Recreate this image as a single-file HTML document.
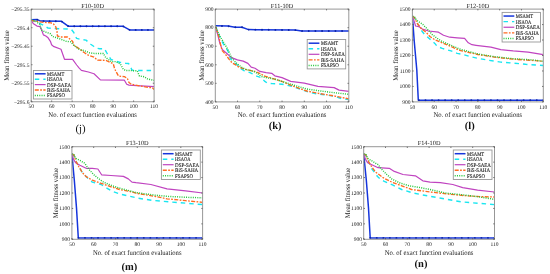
<!DOCTYPE html>
<html><head><meta charset="utf-8"><title>Convergence curves</title>
<style>
html,body{margin:0;padding:0;background:#fff;width:550px;height:274px;overflow:hidden}
svg{display:block}
text{font-family:"Liberation Serif","Times New Roman",serif;fill:#1a1a1a;text-rendering:geometricPrecision}
.t{font-size:5.5px}
.lb{font-size:7.2px}
.ti{font-size:6.3px}
.lg{font-size:5.5px;stroke:#1a1a1a;stroke-width:0.12px}
.lb2{font-size:10.5px;font-weight:bold;fill:#111}
.ls{font-size:10.8px;fill:#111}
</style></head>
<body>
<svg width="550" height="274" viewBox="0 0 550 274">
<defs><clipPath id="cj"><rect x="31.2" y="9.2" width="122.9" height="92.55"/></clipPath><clipPath id="ck"><rect x="215.3" y="9.1" width="133.5" height="92.8"/></clipPath><clipPath id="cl"><rect x="412.4" y="9.1" width="130.9" height="92.8"/></clipPath><clipPath id="cm"><rect x="71.9" y="146.7" width="130.7" height="92.6"/></clipPath><clipPath id="cn"><rect x="363.7" y="146.7" width="130.8" height="92.6"/></clipPath></defs>
<rect width="550" height="274" fill="#fff"/>
<g clip-path="url(#cj)"><polyline points="31.2,19.7 37,19.6 41,21.1 61.5,21.3 68.5,26.3 123.2,26.3 129.6,29.9 154.1,29.9" fill="none" stroke="#1535dc" stroke-width="1.5" stroke-linejoin="round"/><g fill="#0c24a8"><circle cx="31.2" cy="19.7" r="0.95"/><circle cx="37.34" cy="19.73" r="0.95"/><circle cx="43.49" cy="21.12" r="0.95"/><circle cx="49.63" cy="21.18" r="0.95"/><circle cx="55.78" cy="21.24" r="0.95"/><circle cx="61.92" cy="21.6" r="0.95"/><circle cx="68.07" cy="25.99" r="0.95"/><circle cx="74.22" cy="26.3" r="0.95"/><circle cx="80.36" cy="26.3" r="0.95"/><circle cx="86.5" cy="26.3" r="0.95"/><circle cx="92.65" cy="26.3" r="0.95"/><circle cx="98.8" cy="26.3" r="0.95"/><circle cx="104.94" cy="26.3" r="0.95"/><circle cx="111.09" cy="26.3" r="0.95"/><circle cx="117.23" cy="26.3" r="0.95"/><circle cx="123.38" cy="26.4" r="0.95"/><circle cx="129.52" cy="29.85" r="0.95"/><circle cx="135.66" cy="29.9" r="0.95"/><circle cx="141.81" cy="29.9" r="0.95"/><circle cx="147.95" cy="29.9" r="0.95"/><circle cx="154.1" cy="29.9" r="0.95"/></g><polyline points="31.2,19.9 38.8,23.2 41.7,24.3 45.2,26.1 48.1,28.1 53.4,28.4 60.4,28.8 67.4,29 71.5,29.6 73.8,32.5 75.5,36.6 76.7,38.4 81.4,39.5 86,40.1 90.7,44.2 94,46.5 95.8,47.9 99.8,48.8 104.5,48.8 107.4,54 110.9,59.3 115,61 119.7,62.2 125.5,63.2 128.5,63.5 130,65.5 131.7,69.6 133.2,70.5 154.1,70.5" fill="none" stroke="#19e6f0" stroke-width="1.4" stroke-dasharray="4.5 4" stroke-linejoin="round"/><polyline points="31.2,20.3 33.5,23.8 37,26.1 40,26.7 41.7,30.2 43.4,34.9 45.8,36 48.1,37.8 50.4,41.3 51.6,44.7 53.4,46.4 61,49.3 64.5,59.3 72.6,59.3 76.7,65 79,67.9 81.4,70.3 88.4,72 94,73.8 100.4,79.9 124.4,80.2 126.7,84.3 129,85.1 140.7,85.8 154.1,86.6" fill="none" stroke="#c044c0" stroke-width="1.2" stroke-linejoin="round"/><polyline points="31.2,20.3 37,21.4 41.7,22.2 51,22.9 53.4,23.8 55.7,26.7 56.9,30.2 57.4,36 60.4,37 67.4,37 69.7,38.9 72.6,41.3 73.8,45.3 80.2,49.3 83.7,52.3 88.4,55.2 94,57.2 97.5,60.1 105.7,60.4 111.5,62.8 113.3,63.9 114.4,68 115.6,70.8 118.5,76.1 124.4,76.7 127.3,78.4 129,82.5 131.4,84.3 140.7,86 146.6,87.2 152.4,87.8 154.1,89.5" fill="none" stroke="#ff6a1f" stroke-width="1.35" stroke-dasharray="4 1.4 1.7 1.4" stroke-linejoin="round"/><polyline points="31.2,19.9 35.8,21.4 39.9,24.3 41.7,30.2 45.2,31.9 50.4,33.7 52.8,36.6 56.9,37.8 61.5,39.5 66.2,41.3 70.9,41.9 73.8,45.3 79,49.3 83.7,50.5 89.6,52.8 94,53.4 103.3,53.4 105.7,57.5 111.5,61.6 115.6,61.6 120.3,63.9 123.2,69.2 125.5,70.4 137.2,70.8 139.5,76.1 144.2,76.7 147.7,79 154.1,80.4" fill="none" stroke="#22c83a" stroke-width="1.45" stroke-dasharray="1 1.25" stroke-linejoin="round"/></g>
<rect x="31.2" y="9.2" width="122.9" height="92.55" fill="none" stroke="#979797" stroke-width="1.0"/>
<path d="M31.2 9.2v1.3M31.2 101.75v-1.3M51.68 9.2v1.3M51.68 101.75v-1.3M72.17 9.2v1.3M72.17 101.75v-1.3M92.65 9.2v1.3M92.65 101.75v-1.3M113.13 9.2v1.3M113.13 101.75v-1.3M133.62 9.2v1.3M133.62 101.75v-1.3M154.1 9.2v1.3M154.1 101.75v-1.3M31.2 9.2h1.3M154.1 9.2h-1.3M31.2 27.71h1.3M154.1 27.71h-1.3M31.2 46.22h1.3M154.1 46.22h-1.3M31.2 64.73h1.3M154.1 64.73h-1.3M31.2 83.24h1.3M154.1 83.24h-1.3M31.2 101.75h1.3M154.1 101.75h-1.3" stroke="#555" stroke-width="0.8" fill="none"/>
<text x="31.2" y="108.45" class="t" text-anchor="middle">50</text>
<text x="51.68" y="108.45" class="t" text-anchor="middle">60</text>
<text x="72.17" y="108.45" class="t" text-anchor="middle">70</text>
<text x="92.65" y="108.45" class="t" text-anchor="middle">80</text>
<text x="113.13" y="108.45" class="t" text-anchor="middle">90</text>
<text x="133.62" y="108.45" class="t" text-anchor="middle">100</text>
<text x="154.1" y="108.45" class="t" text-anchor="middle">110</text>
<text x="29.4" y="11" class="t" text-anchor="end">−295.35</text>
<text x="29.4" y="29.51" class="t" text-anchor="end">−295.4</text>
<text x="29.4" y="48.02" class="t" text-anchor="end">−295.45</text>
<text x="29.4" y="66.53" class="t" text-anchor="end">−295.5</text>
<text x="29.4" y="85.04" class="t" text-anchor="end">−295.55</text>
<text x="29.4" y="103.55" class="t" text-anchor="end">−295.6</text>
<text x="92.65" y="7.8" class="ti" text-anchor="middle">F10-10D</text>
<text x="92.65" y="117" class="lb" text-anchor="middle" textLength="88.6" lengthAdjust="spacingAndGlyphs">No. of exact function evaluations</text>
<text transform="translate(9.2 55.48) rotate(-90)" class="lb" text-anchor="middle" textLength="50.6" lengthAdjust="spacingAndGlyphs">Mean fitness value</text>
<rect x="33.4" y="70.5" width="38.6" height="28.5" fill="#fff" stroke="#979797" stroke-width="0.9"/><polyline points="34.8,73.8 45.6,73.8" fill="none" stroke="#1535dc" stroke-width="1.5" stroke-linejoin="round"/><polyline points="34.8,79.2 45.6,79.2" fill="none" stroke="#19e6f0" stroke-width="1.4" stroke-dasharray="4.5 4" stroke-linejoin="round"/><polyline points="34.8,84.6 45.6,84.6" fill="none" stroke="#c044c0" stroke-width="1.2" stroke-linejoin="round"/><polyline points="34.8,90 45.6,90" fill="none" stroke="#ff6a1f" stroke-width="1.35" stroke-dasharray="4 1.4 1.7 1.4" stroke-linejoin="round"/><polyline points="34.8,95.4 45.6,95.4" fill="none" stroke="#22c83a" stroke-width="1.45" stroke-dasharray="1 1.25" stroke-linejoin="round"/>
<text x="47.1" y="75.75" class="lg" textLength="17.2" lengthAdjust="spacingAndGlyphs">MSAMT</text>
<text x="47.1" y="81.15" class="lg" textLength="15.5" lengthAdjust="spacingAndGlyphs">HSAOA</text>
<text x="47.1" y="86.55" class="lg" textLength="24" lengthAdjust="spacingAndGlyphs">DSP-SAEA</text>
<text x="47.1" y="91.95" class="lg" textLength="23.2" lengthAdjust="spacingAndGlyphs">BiS-SAHA</text>
<text x="47.1" y="97.35" class="lg" textLength="18" lengthAdjust="spacingAndGlyphs">FSAPSO</text>
<text x="80.6" y="132.4" class="ls" text-anchor="middle">(j)</text>
<g clip-path="url(#ck)"><polyline points="215.3,25.8 228,26.1 235,27.3 242,27.3 248.5,29.6 295.1,30.1 301.6,31 348.8,31" fill="none" stroke="#1535dc" stroke-width="1.5" stroke-linejoin="round"/><g fill="#0c24a8"><circle cx="215.3" cy="25.8" r="0.95"/><circle cx="221.98" cy="25.96" r="0.95"/><circle cx="228.65" cy="26.21" r="0.95"/><circle cx="235.33" cy="27.3" r="0.95"/><circle cx="242" cy="27.3" r="0.95"/><circle cx="248.68" cy="29.6" r="0.95"/><circle cx="255.35" cy="29.67" r="0.95"/><circle cx="262.03" cy="29.75" r="0.95"/><circle cx="268.7" cy="29.82" r="0.95"/><circle cx="275.38" cy="29.89" r="0.95"/><circle cx="282.05" cy="29.96" r="0.95"/><circle cx="288.73" cy="30.03" r="0.95"/><circle cx="295.4" cy="30.14" r="0.95"/><circle cx="302.08" cy="31" r="0.95"/><circle cx="308.75" cy="31" r="0.95"/><circle cx="315.43" cy="31" r="0.95"/><circle cx="322.1" cy="31" r="0.95"/><circle cx="328.78" cy="31" r="0.95"/><circle cx="335.45" cy="31" r="0.95"/><circle cx="342.12" cy="31" r="0.95"/><circle cx="348.8" cy="31" r="0.95"/></g><polyline points="215.3,25.8 219.5,36 222.8,43 225.1,46.5 228,51.2 230.4,58.8 234.4,62.9 239.1,66.4 240.1,68.3 244.4,70.8 250,72.7 252.5,73.9 257.4,76.4 261.2,77.6 264.9,81.4 267.4,83.2 272.3,83.6 277.3,83.9 282,84.2 291.9,86.2 300.6,89.3 309.3,92.4 316.7,93.9 325.4,94.9 334.1,96.1 341.6,98.6 348.8,99.6" fill="none" stroke="#19e6f0" stroke-width="1.4" stroke-dasharray="4.5 4" stroke-linejoin="round"/><polyline points="215.3,25.8 218.1,36 219.8,43 222.2,49.4 226.8,53.5 231.5,57.6 237.4,59.9 243.2,61.1 247.9,63.4 251.2,67.1 255,68.3 259.9,71.4 266.1,72.7 271.7,73.3 274.8,75.8 282,77.6 290.7,81.4 304.3,83.2 318,86.3 334.1,87.6 339.1,90.1 348.8,91.3" fill="none" stroke="#c044c0" stroke-width="1.2" stroke-linejoin="round"/><polyline points="215.3,25.8 218.7,36 221,46.5 222.2,50.6 225.7,54.7 229.2,59.4 232.1,62.9 236.2,65.2 238.8,67.1 246.3,69.6 255,71.4 261.2,73.9 263.6,75.8 269.8,77.6 276,79.5 282,81.5 294.4,86.6 306.8,91 319.2,93.5 331.6,95.5 341.6,97.4 348.8,98.9" fill="none" stroke="#ff6a1f" stroke-width="1.35" stroke-dasharray="4 1.4 1.7 1.4" stroke-linejoin="round"/><polyline points="215.3,25.8 219.8,36 223.3,41.8 226.8,47.7 229.8,53.5 231.5,57.6 236.2,62.9 241.3,67.1 246.3,69.6 253.7,71.4 257.4,73.3 261.2,76.4 266.1,77.6 273.6,78.9 282,81.4 294.4,85.3 306.8,89 319.2,90.8 331.6,92.4 348.8,94.3" fill="none" stroke="#22c83a" stroke-width="1.45" stroke-dasharray="1 1.25" stroke-linejoin="round"/></g>
<rect x="215.3" y="9.1" width="133.5" height="92.8" fill="none" stroke="#979797" stroke-width="1.0"/>
<path d="M215.3 9.1v1.3M215.3 101.9v-1.3M237.55 9.1v1.3M237.55 101.9v-1.3M259.8 9.1v1.3M259.8 101.9v-1.3M282.05 9.1v1.3M282.05 101.9v-1.3M304.3 9.1v1.3M304.3 101.9v-1.3M326.55 9.1v1.3M326.55 101.9v-1.3M348.8 9.1v1.3M348.8 101.9v-1.3M215.3 9.1h1.3M348.8 9.1h-1.3M215.3 27.66h1.3M348.8 27.66h-1.3M215.3 46.22h1.3M348.8 46.22h-1.3M215.3 64.78h1.3M348.8 64.78h-1.3M215.3 83.34h1.3M348.8 83.34h-1.3M215.3 101.9h1.3M348.8 101.9h-1.3" stroke="#555" stroke-width="0.8" fill="none"/>
<text x="215.3" y="108.6" class="t" text-anchor="middle">50</text>
<text x="237.55" y="108.6" class="t" text-anchor="middle">60</text>
<text x="259.8" y="108.6" class="t" text-anchor="middle">70</text>
<text x="282.05" y="108.6" class="t" text-anchor="middle">80</text>
<text x="304.3" y="108.6" class="t" text-anchor="middle">90</text>
<text x="326.55" y="108.6" class="t" text-anchor="middle">100</text>
<text x="348.8" y="108.6" class="t" text-anchor="middle">110</text>
<text x="213.5" y="10.9" class="t" text-anchor="end">900</text>
<text x="213.5" y="29.46" class="t" text-anchor="end">800</text>
<text x="213.5" y="48.02" class="t" text-anchor="end">700</text>
<text x="213.5" y="66.58" class="t" text-anchor="end">600</text>
<text x="213.5" y="85.14" class="t" text-anchor="end">500</text>
<text x="213.5" y="103.7" class="t" text-anchor="end">400</text>
<text x="282.05" y="7.7" class="ti" text-anchor="middle">F11-10D</text>
<text x="282.05" y="116.7" class="lb" text-anchor="middle" textLength="88.6" lengthAdjust="spacingAndGlyphs">No. of exact function evaluations</text>
<text transform="translate(203.7 55.5) rotate(-90)" class="lb" text-anchor="middle" textLength="50.6" lengthAdjust="spacingAndGlyphs">Mean fitness value</text>
<rect x="307.2" y="39.5" width="38.5" height="29.4" fill="#fff" stroke="#979797" stroke-width="0.9"/><polyline points="308.6,43.2 319.4,43.2" fill="none" stroke="#1535dc" stroke-width="1.5" stroke-linejoin="round"/><polyline points="308.6,48.75 319.4,48.75" fill="none" stroke="#19e6f0" stroke-width="1.4" stroke-dasharray="4.5 4" stroke-linejoin="round"/><polyline points="308.6,54.3 319.4,54.3" fill="none" stroke="#c044c0" stroke-width="1.2" stroke-linejoin="round"/><polyline points="308.6,59.85 319.4,59.85" fill="none" stroke="#ff6a1f" stroke-width="1.35" stroke-dasharray="4 1.4 1.7 1.4" stroke-linejoin="round"/><polyline points="308.6,65.4 319.4,65.4" fill="none" stroke="#22c83a" stroke-width="1.45" stroke-dasharray="1 1.25" stroke-linejoin="round"/>
<text x="320.9" y="45.15" class="lg" textLength="17.2" lengthAdjust="spacingAndGlyphs">MSAMT</text>
<text x="320.9" y="50.7" class="lg" textLength="15.5" lengthAdjust="spacingAndGlyphs">HSAOA</text>
<text x="320.9" y="56.25" class="lg" textLength="24" lengthAdjust="spacingAndGlyphs">DSP-SAEA</text>
<text x="320.9" y="61.8" class="lg" textLength="23.2" lengthAdjust="spacingAndGlyphs">BiS-SAHA</text>
<text x="320.9" y="67.35" class="lg" textLength="18" lengthAdjust="spacingAndGlyphs">FSAPSO</text>
<text x="275.1" y="128.8" class="lb2" text-anchor="middle">(k)</text>
<g clip-path="url(#cl)"><polyline points="412.4,16.4 414.3,42 416.8,70 418.3,100.2 543.3,100.2" fill="none" stroke="#1535dc" stroke-width="1.5" stroke-linejoin="round"/><g fill="#0c24a8"><circle cx="412.4" cy="16.4" r="0.95"/><circle cx="418.94" cy="100.2" r="0.95"/><circle cx="425.49" cy="100.2" r="0.95"/><circle cx="432.03" cy="100.2" r="0.95"/><circle cx="438.58" cy="100.2" r="0.95"/><circle cx="445.12" cy="100.2" r="0.95"/><circle cx="451.67" cy="100.2" r="0.95"/><circle cx="458.21" cy="100.2" r="0.95"/><circle cx="464.76" cy="100.2" r="0.95"/><circle cx="471.3" cy="100.2" r="0.95"/><circle cx="477.85" cy="100.2" r="0.95"/><circle cx="484.39" cy="100.2" r="0.95"/><circle cx="490.94" cy="100.2" r="0.95"/><circle cx="497.48" cy="100.2" r="0.95"/><circle cx="504.03" cy="100.2" r="0.95"/><circle cx="510.57" cy="100.2" r="0.95"/><circle cx="517.12" cy="100.2" r="0.95"/><circle cx="523.66" cy="100.2" r="0.95"/><circle cx="530.21" cy="100.2" r="0.95"/><circle cx="536.75" cy="100.2" r="0.95"/><circle cx="543.3" cy="100.2" r="0.95"/></g><polyline points="412.4,16.4 414.3,17.5 417.4,23.5 421.8,31 424.3,34.1 428.6,37.9 434.8,43.4 437.3,46.5 442.3,48.4 451,50.9 457.2,53.4 463.4,54.6 469.6,56.5 478,58.3 488.4,60.2 500.8,62.1 513.2,63.1 525.6,64.3 543.3,65.5" fill="none" stroke="#19e6f0" stroke-width="1.4" stroke-dasharray="4.5 4" stroke-linejoin="round"/><polyline points="412.4,16.4 414.3,21.6 415.6,26 418.7,26.6 422.4,29.1 428.6,31 438.5,32.2 443.5,35.3 449.7,37.2 457.2,37.8 464.6,38.3 468.3,42.8 472,44.7 476,45.3 490.9,47.2 500.8,49.6 513.2,50.9 528.1,52.1 543.3,54.6" fill="none" stroke="#c044c0" stroke-width="1.2" stroke-linejoin="round"/><polyline points="412.4,16.4 414.3,17.3 417.4,23.5 421.2,28.5 426.1,32.2 429.9,36.5 434.8,39.7 442.3,42.8 451,46.5 459.6,50.3 468.3,52.4 478,54.5 494.6,57.1 513.2,59.2 531.8,60.4 543.3,61.3" fill="none" stroke="#ff6a1f" stroke-width="1.35" stroke-dasharray="4 1.4 1.7 1.4" stroke-linejoin="round"/><polyline points="412.4,16.4 414.3,16.7 416.8,20.4 422.4,24.1 428.6,30.3 432.3,34.7 437.3,38.4 442.3,41.6 451,45.3 459.6,49 469.6,51.8 478,54 494.6,56.7 513.2,58.7 531.8,59.9 543.3,61.3" fill="none" stroke="#22c83a" stroke-width="1.45" stroke-dasharray="1 1.25" stroke-linejoin="round"/></g>
<rect x="412.4" y="9.1" width="130.9" height="92.8" fill="none" stroke="#979797" stroke-width="1.0"/>
<path d="M412.4 9.1v1.3M412.4 101.9v-1.3M434.22 9.1v1.3M434.22 101.9v-1.3M456.03 9.1v1.3M456.03 101.9v-1.3M477.85 9.1v1.3M477.85 101.9v-1.3M499.67 9.1v1.3M499.67 101.9v-1.3M521.48 9.1v1.3M521.48 101.9v-1.3M543.3 9.1v1.3M543.3 101.9v-1.3M412.4 9.1h1.3M543.3 9.1h-1.3M412.4 24.57h1.3M543.3 24.57h-1.3M412.4 40.03h1.3M543.3 40.03h-1.3M412.4 55.5h1.3M543.3 55.5h-1.3M412.4 70.97h1.3M543.3 70.97h-1.3M412.4 86.43h1.3M543.3 86.43h-1.3M412.4 101.9h1.3M543.3 101.9h-1.3" stroke="#555" stroke-width="0.8" fill="none"/>
<text x="412.4" y="108.6" class="t" text-anchor="middle">50</text>
<text x="434.22" y="108.6" class="t" text-anchor="middle">60</text>
<text x="456.03" y="108.6" class="t" text-anchor="middle">70</text>
<text x="477.85" y="108.6" class="t" text-anchor="middle">80</text>
<text x="499.67" y="108.6" class="t" text-anchor="middle">90</text>
<text x="521.48" y="108.6" class="t" text-anchor="middle">100</text>
<text x="543.3" y="108.6" class="t" text-anchor="middle">110</text>
<text x="410.6" y="10.9" class="t" text-anchor="end">1500</text>
<text x="410.6" y="26.37" class="t" text-anchor="end">1400</text>
<text x="410.6" y="41.83" class="t" text-anchor="end">1300</text>
<text x="410.6" y="57.3" class="t" text-anchor="end">1200</text>
<text x="410.6" y="72.77" class="t" text-anchor="end">1100</text>
<text x="410.6" y="88.23" class="t" text-anchor="end">1000</text>
<text x="410.6" y="103.7" class="t" text-anchor="end">900</text>
<text x="477.85" y="7.7" class="ti" text-anchor="middle">F12-10D</text>
<text x="477.85" y="116.7" class="lb" text-anchor="middle" textLength="88.6" lengthAdjust="spacingAndGlyphs">No. of exact function evaluations</text>
<text transform="translate(398.2 55.5) rotate(-90)" class="lb" text-anchor="middle" textLength="50.6" lengthAdjust="spacingAndGlyphs">Mean fitness value</text>
<rect x="502.1" y="12.4" width="38.4" height="29.6" fill="#fff" stroke="#979797" stroke-width="0.9"/><polyline points="503.5,16.05 514.3,16.05" fill="none" stroke="#1535dc" stroke-width="1.5" stroke-linejoin="round"/><polyline points="503.5,21.65 514.3,21.65" fill="none" stroke="#19e6f0" stroke-width="1.4" stroke-dasharray="4.5 4" stroke-linejoin="round"/><polyline points="503.5,27.25 514.3,27.25" fill="none" stroke="#c044c0" stroke-width="1.2" stroke-linejoin="round"/><polyline points="503.5,32.85 514.3,32.85" fill="none" stroke="#ff6a1f" stroke-width="1.35" stroke-dasharray="4 1.4 1.7 1.4" stroke-linejoin="round"/><polyline points="503.5,38.45 514.3,38.45" fill="none" stroke="#22c83a" stroke-width="1.45" stroke-dasharray="1 1.25" stroke-linejoin="round"/>
<text x="515.8" y="18" class="lg" textLength="17.2" lengthAdjust="spacingAndGlyphs">MSAMT</text>
<text x="515.8" y="23.6" class="lg" textLength="15.5" lengthAdjust="spacingAndGlyphs">HSAOA</text>
<text x="515.8" y="29.2" class="lg" textLength="24" lengthAdjust="spacingAndGlyphs">DSP-SAEA</text>
<text x="515.8" y="34.8" class="lg" textLength="23.2" lengthAdjust="spacingAndGlyphs">BiS-SAHA</text>
<text x="515.8" y="40.4" class="lg" textLength="18" lengthAdjust="spacingAndGlyphs">FSAPSO</text>
<text x="469.8" y="128.9" class="lb2" text-anchor="middle">(l)</text>
<g clip-path="url(#cm)"><polyline points="71.9,154.1 74.3,180 76.5,208 78.3,237.9 202.6,237.9" fill="none" stroke="#1535dc" stroke-width="1.5" stroke-linejoin="round"/><g fill="#0c24a8"><circle cx="71.9" cy="154.1" r="0.95"/><circle cx="78.44" cy="237.9" r="0.95"/><circle cx="84.97" cy="237.9" r="0.95"/><circle cx="91.51" cy="237.9" r="0.95"/><circle cx="98.04" cy="237.9" r="0.95"/><circle cx="104.58" cy="237.9" r="0.95"/><circle cx="111.11" cy="237.9" r="0.95"/><circle cx="117.65" cy="237.9" r="0.95"/><circle cx="124.18" cy="237.9" r="0.95"/><circle cx="130.72" cy="237.9" r="0.95"/><circle cx="137.25" cy="237.9" r="0.95"/><circle cx="143.78" cy="237.9" r="0.95"/><circle cx="150.32" cy="237.9" r="0.95"/><circle cx="156.86" cy="237.9" r="0.95"/><circle cx="163.39" cy="237.9" r="0.95"/><circle cx="169.93" cy="237.9" r="0.95"/><circle cx="176.46" cy="237.9" r="0.95"/><circle cx="183" cy="237.9" r="0.95"/><circle cx="189.53" cy="237.9" r="0.95"/><circle cx="196.06" cy="237.9" r="0.95"/><circle cx="202.6" cy="237.9" r="0.95"/></g><polyline points="71.9,154.1 73.7,154.7 76.2,161.5 78.7,166.5 82.4,172.5 84.9,175.2 88.6,178.9 92.3,182.1 101,184.5 107.2,188.3 112.2,191.4 119.6,193.9 127.1,195.7 138,198.2 152.1,200.3 169.5,201.9 185.6,203.2 202.6,204.6" fill="none" stroke="#19e6f0" stroke-width="1.4" stroke-dasharray="4.5 4" stroke-linejoin="round"/><polyline points="71.9,154.1 73.7,159.6 75.6,162.8 79.9,165.2 86.1,168.3 92.3,168.3 97.9,169 101.6,174.8 111,175.5 123.4,176.4 128.3,178.9 132,182.1 136,182.7 150.9,184.5 167,188.9 185.6,190.8 202.6,193" fill="none" stroke="#c044c0" stroke-width="1.2" stroke-linejoin="round"/><polyline points="71.9,154.1 73.7,154.7 76.2,161.5 78.7,166.5 82.4,172.7 86.1,176.6 92.3,180.2 101,183.3 109.7,186.4 119.6,189.5 129.6,191.4 136,193.2 154.6,196.3 167,198.8 185.6,200.7 202.6,202.3" fill="none" stroke="#ff6a1f" stroke-width="1.35" stroke-dasharray="4 1.4 1.7 1.4" stroke-linejoin="round"/><polyline points="71.9,154.1 73.7,154.1 75.6,158.4 79.9,160.3 84.9,163.4 88.6,169 93.6,174.5 97.3,177.7 103.5,182.1 112.2,185.8 122.1,188.9 132,191.4 136,192.6 154.6,195.1 167,196.3 185.6,197.3 202.6,197.8" fill="none" stroke="#22c83a" stroke-width="1.45" stroke-dasharray="1 1.25" stroke-linejoin="round"/></g>
<rect x="71.9" y="146.7" width="130.7" height="92.6" fill="none" stroke="#979797" stroke-width="1.0"/>
<path d="M71.9 146.7v1.3M71.9 239.3v-1.3M93.68 146.7v1.3M93.68 239.3v-1.3M115.47 146.7v1.3M115.47 239.3v-1.3M137.25 146.7v1.3M137.25 239.3v-1.3M159.03 146.7v1.3M159.03 239.3v-1.3M180.82 146.7v1.3M180.82 239.3v-1.3M202.6 146.7v1.3M202.6 239.3v-1.3M71.9 146.7h1.3M202.6 146.7h-1.3M71.9 162.13h1.3M202.6 162.13h-1.3M71.9 177.57h1.3M202.6 177.57h-1.3M71.9 193h1.3M202.6 193h-1.3M71.9 208.43h1.3M202.6 208.43h-1.3M71.9 223.87h1.3M202.6 223.87h-1.3M71.9 239.3h1.3M202.6 239.3h-1.3" stroke="#555" stroke-width="0.8" fill="none"/>
<text x="71.9" y="246" class="t" text-anchor="middle">50</text>
<text x="93.68" y="246" class="t" text-anchor="middle">60</text>
<text x="115.47" y="246" class="t" text-anchor="middle">70</text>
<text x="137.25" y="246" class="t" text-anchor="middle">80</text>
<text x="159.03" y="246" class="t" text-anchor="middle">90</text>
<text x="180.82" y="246" class="t" text-anchor="middle">100</text>
<text x="202.6" y="246" class="t" text-anchor="middle">110</text>
<text x="70.1" y="148.5" class="t" text-anchor="end">1500</text>
<text x="70.1" y="163.93" class="t" text-anchor="end">1400</text>
<text x="70.1" y="179.37" class="t" text-anchor="end">1300</text>
<text x="70.1" y="194.8" class="t" text-anchor="end">1200</text>
<text x="70.1" y="210.23" class="t" text-anchor="end">1100</text>
<text x="70.1" y="225.67" class="t" text-anchor="end">1000</text>
<text x="70.1" y="241.1" class="t" text-anchor="end">900</text>
<text x="137.25" y="145.3" class="ti" text-anchor="middle">F13-10D</text>
<text x="137.25" y="254.9" class="lb" text-anchor="middle" textLength="88.6" lengthAdjust="spacingAndGlyphs">No. of exact function evaluations</text>
<text transform="translate(57.7 193) rotate(-90)" class="lb" text-anchor="middle" textLength="50.6" lengthAdjust="spacingAndGlyphs">Mean fitness value</text>
<rect x="161.4" y="150" width="38.9" height="29.5" fill="#fff" stroke="#979797" stroke-width="0.9"/><polyline points="162.8,153.7 173.6,153.7" fill="none" stroke="#1535dc" stroke-width="1.5" stroke-linejoin="round"/><polyline points="162.8,159.2 173.6,159.2" fill="none" stroke="#19e6f0" stroke-width="1.4" stroke-dasharray="4.5 4" stroke-linejoin="round"/><polyline points="162.8,164.7 173.6,164.7" fill="none" stroke="#c044c0" stroke-width="1.2" stroke-linejoin="round"/><polyline points="162.8,170.2 173.6,170.2" fill="none" stroke="#ff6a1f" stroke-width="1.35" stroke-dasharray="4 1.4 1.7 1.4" stroke-linejoin="round"/><polyline points="162.8,175.7 173.6,175.7" fill="none" stroke="#22c83a" stroke-width="1.45" stroke-dasharray="1 1.25" stroke-linejoin="round"/>
<text x="175.1" y="155.65" class="lg" textLength="17.2" lengthAdjust="spacingAndGlyphs">MSAMT</text>
<text x="175.1" y="161.15" class="lg" textLength="15.5" lengthAdjust="spacingAndGlyphs">HSAOA</text>
<text x="175.1" y="166.65" class="lg" textLength="24" lengthAdjust="spacingAndGlyphs">DSP-SAEA</text>
<text x="175.1" y="172.15" class="lg" textLength="23.2" lengthAdjust="spacingAndGlyphs">BiS-SAHA</text>
<text x="175.1" y="177.65" class="lg" textLength="18" lengthAdjust="spacingAndGlyphs">FSAPSO</text>
<text x="129.3" y="270" class="lb2" text-anchor="middle">(m)</text>
<g clip-path="url(#cn)"><polyline points="363.7,154.1 366.3,180 368.5,208 370.2,237.9 494.5,237.9" fill="none" stroke="#1535dc" stroke-width="1.5" stroke-linejoin="round"/><g fill="#0c24a8"><circle cx="363.7" cy="154.1" r="0.95"/><circle cx="370.24" cy="237.9" r="0.95"/><circle cx="376.78" cy="237.9" r="0.95"/><circle cx="383.32" cy="237.9" r="0.95"/><circle cx="389.86" cy="237.9" r="0.95"/><circle cx="396.4" cy="237.9" r="0.95"/><circle cx="402.94" cy="237.9" r="0.95"/><circle cx="409.48" cy="237.9" r="0.95"/><circle cx="416.02" cy="237.9" r="0.95"/><circle cx="422.56" cy="237.9" r="0.95"/><circle cx="429.1" cy="237.9" r="0.95"/><circle cx="435.64" cy="237.9" r="0.95"/><circle cx="442.18" cy="237.9" r="0.95"/><circle cx="448.72" cy="237.9" r="0.95"/><circle cx="455.26" cy="237.9" r="0.95"/><circle cx="461.8" cy="237.9" r="0.95"/><circle cx="468.34" cy="237.9" r="0.95"/><circle cx="474.88" cy="237.9" r="0.95"/><circle cx="481.42" cy="237.9" r="0.95"/><circle cx="487.96" cy="237.9" r="0.95"/><circle cx="494.5" cy="237.9" r="0.95"/></g><polyline points="363.7,154.1 365.7,154.7 368.8,162.1 371.9,169 374.4,172.1 377.5,176.5 380,178.9 384.3,181.4 393,185.2 401.7,189.5 411.6,192.6 420.3,194.5 430,196.3 444.1,198.8 461.5,201.9 477.6,203.2 494.5,204.6" fill="none" stroke="#19e6f0" stroke-width="1.4" stroke-dasharray="4.5 4" stroke-linejoin="round"/><polyline points="363.7,154.1 365.7,159.6 367.6,162.8 378.1,167.7 389.3,168.3 394.3,171.4 403,174.5 415.4,175.8 419.1,178.3 422.8,180.8 430,182.1 440.4,182.7 452.8,184.5 462.7,187.6 477.6,190.1 494.5,192" fill="none" stroke="#c044c0" stroke-width="1.2" stroke-linejoin="round"/><polyline points="363.7,154.1 365.7,154.7 368.8,162.1 371.9,167.1 375.6,172.1 380.6,175.8 383.1,177.7 391.8,182.1 401.7,185.8 411.6,189.5 421.6,190.8 430,192 446.6,193.9 465.2,195.7 480.1,196.7 494.5,197" fill="none" stroke="#ff6a1f" stroke-width="1.35" stroke-dasharray="4 1.4 1.7 1.4" stroke-linejoin="round"/><polyline points="363.7,154.1 365.7,154.1 367.6,158.4 378.1,164.6 381.9,169.6 386.8,174.5 391.8,179 399.2,182.7 409.2,185.8 419.1,187.4 430,189.5 446.6,193.2 465.2,195.1 480.1,197 494.5,199.4" fill="none" stroke="#22c83a" stroke-width="1.45" stroke-dasharray="1 1.25" stroke-linejoin="round"/></g>
<rect x="363.7" y="146.7" width="130.8" height="92.6" fill="none" stroke="#979797" stroke-width="1.0"/>
<path d="M363.7 146.7v1.3M363.7 239.3v-1.3M385.5 146.7v1.3M385.5 239.3v-1.3M407.3 146.7v1.3M407.3 239.3v-1.3M429.1 146.7v1.3M429.1 239.3v-1.3M450.9 146.7v1.3M450.9 239.3v-1.3M472.7 146.7v1.3M472.7 239.3v-1.3M494.5 146.7v1.3M494.5 239.3v-1.3M363.7 146.7h1.3M494.5 146.7h-1.3M363.7 162.13h1.3M494.5 162.13h-1.3M363.7 177.57h1.3M494.5 177.57h-1.3M363.7 193h1.3M494.5 193h-1.3M363.7 208.43h1.3M494.5 208.43h-1.3M363.7 223.87h1.3M494.5 223.87h-1.3M363.7 239.3h1.3M494.5 239.3h-1.3" stroke="#555" stroke-width="0.8" fill="none"/>
<text x="363.7" y="246" class="t" text-anchor="middle">50</text>
<text x="385.5" y="246" class="t" text-anchor="middle">60</text>
<text x="407.3" y="246" class="t" text-anchor="middle">70</text>
<text x="429.1" y="246" class="t" text-anchor="middle">80</text>
<text x="450.9" y="246" class="t" text-anchor="middle">90</text>
<text x="472.7" y="246" class="t" text-anchor="middle">100</text>
<text x="494.5" y="246" class="t" text-anchor="middle">110</text>
<text x="361.9" y="148.5" class="t" text-anchor="end">1500</text>
<text x="361.9" y="163.93" class="t" text-anchor="end">1400</text>
<text x="361.9" y="179.37" class="t" text-anchor="end">1300</text>
<text x="361.9" y="194.8" class="t" text-anchor="end">1200</text>
<text x="361.9" y="210.23" class="t" text-anchor="end">1100</text>
<text x="361.9" y="225.67" class="t" text-anchor="end">1000</text>
<text x="361.9" y="241.1" class="t" text-anchor="end">900</text>
<text x="429.1" y="145.3" class="ti" text-anchor="middle">F14-10D</text>
<text x="429.1" y="254.9" class="lb" text-anchor="middle" textLength="88.6" lengthAdjust="spacingAndGlyphs">No. of exact function evaluations</text>
<text transform="translate(349.5 193) rotate(-90)" class="lb" text-anchor="middle" textLength="50.6" lengthAdjust="spacingAndGlyphs">Mean fitness value</text>
<rect x="453.3" y="150" width="38.7" height="29.5" fill="#fff" stroke="#979797" stroke-width="0.9"/><polyline points="454.7,153.7 465.5,153.7" fill="none" stroke="#1535dc" stroke-width="1.5" stroke-linejoin="round"/><polyline points="454.7,159.2 465.5,159.2" fill="none" stroke="#19e6f0" stroke-width="1.4" stroke-dasharray="4.5 4" stroke-linejoin="round"/><polyline points="454.7,164.7 465.5,164.7" fill="none" stroke="#c044c0" stroke-width="1.2" stroke-linejoin="round"/><polyline points="454.7,170.2 465.5,170.2" fill="none" stroke="#ff6a1f" stroke-width="1.35" stroke-dasharray="4 1.4 1.7 1.4" stroke-linejoin="round"/><polyline points="454.7,175.7 465.5,175.7" fill="none" stroke="#22c83a" stroke-width="1.45" stroke-dasharray="1 1.25" stroke-linejoin="round"/>
<text x="467" y="155.65" class="lg" textLength="17.2" lengthAdjust="spacingAndGlyphs">MSAMT</text>
<text x="467" y="161.15" class="lg" textLength="15.5" lengthAdjust="spacingAndGlyphs">HSAOA</text>
<text x="467" y="166.65" class="lg" textLength="24" lengthAdjust="spacingAndGlyphs">DSP-SAEA</text>
<text x="467" y="172.15" class="lg" textLength="23.2" lengthAdjust="spacingAndGlyphs">BiS-SAHA</text>
<text x="467" y="177.65" class="lg" textLength="18" lengthAdjust="spacingAndGlyphs">FSAPSO</text>
<text x="421" y="266.9" class="lb2" text-anchor="middle">(n)</text>
</svg>
</body></html>
